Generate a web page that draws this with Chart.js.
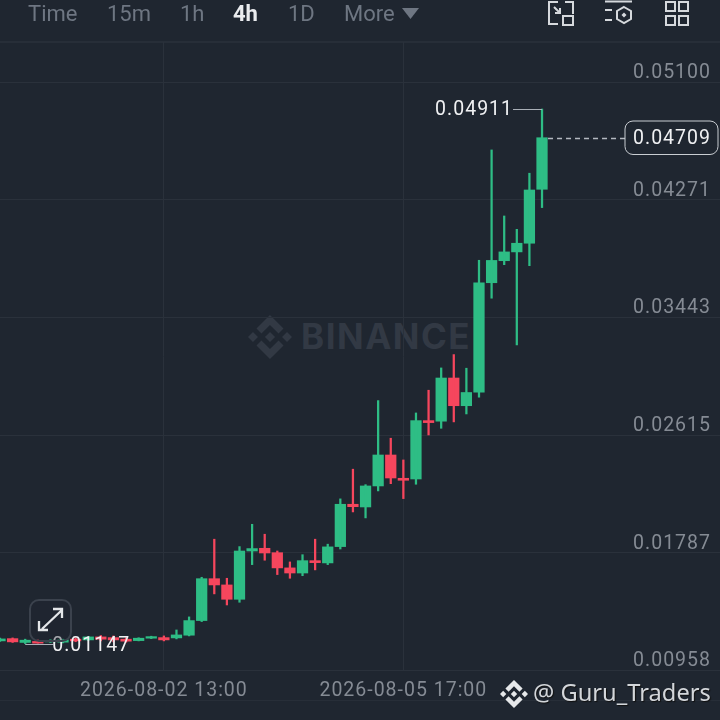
<!DOCTYPE html>
<html>
<head>
<meta charset="utf-8">
<script src="https://cdn.jsdelivr.net/npm/chart.js@4"></script>
<style>
html,body{margin:0;padding:0;background:#1f2630;width:720px;height:720px;overflow:hidden}
#wrap{position:relative;width:720px;height:720px;background:#1f2630}
canvas{position:absolute;left:0;top:0;z-index:2}
.t{position:absolute;white-space:nowrap;line-height:1;z-index:3}
.hd{font-family:Roboto,sans-serif;font-size:22px;color:#6e7682;top:3px}
.rule{position:absolute;left:0;width:720px;height:2px;background:#272e38;z-index:1}
svg{position:absolute;z-index:3}
</style>
</head>
<body>
<div id="wrap">
  <div class="rule" style="top:41px"></div>
  <div class="rule" style="top:700px;height:1px"></div>

  <svg style="left:248px;top:315px;z-index:1" width="44" height="44" viewBox="0 0 126.61 126.61"><path fill="#323944" d="M38.73 53.2L63.3 28.64l24.58 24.58 14.3-14.3L63.3 0 24.43 38.88l14.3 14.3zM0 63.31l14.3-14.3 14.3 14.3-14.3 14.3zM38.73 73.41L63.3 97.98l24.58-24.58 14.31 14.29L63.3 126.6 24.43 87.73l-.02-.02 14.32-14.3zM97.98 63.31l14.3-14.3 14.31 14.3-14.3 14.3zM77.82 63.3L63.3 48.78 52.57 59.51l-1.23 1.23-2.54 2.54 14.5 14.5 14.52-14.48z"/></svg>
  <div class="t" style="left:301px;top:319px;z-index:1;font-family:Inter,sans-serif;font-weight:700;font-size:35px;letter-spacing:1.5px;color:#323944">BINANCE</div>

  <div class="t hd" style="left:28px">Time</div>
  <div class="t hd" style="left:107px">15m</div>
  <div class="t hd" style="left:180px">1h</div>
  <div class="t hd" style="left:233px;color:#eaecef;font-weight:700">4h</div>
  <div class="t hd" style="left:288px">1D</div>
  <div class="t hd" style="left:344px">More</div>
  <svg style="left:402px;top:8px" width="17" height="12"><path d="M0 0H17L8.5 11Z" fill="#6e7682"/></svg>

  <svg style="left:545px;top:0" width="34" height="28" fill="none" stroke="#d6d9dd" stroke-width="2">
    <path d="M13 2H4v22h9M20 2h8v12"/><rect x="18" y="16" width="10" height="9"/><path d="M9 7l6 6M15 8v5h-5" stroke-width="2"/>
  </svg>
  <svg style="left:603px;top:0" width="34" height="28" fill="none" stroke="#d6d9dd" stroke-width="2">
    <path d="M2 1.5H29M2 10H9M2 20H9"/><path d="M21 7l7 4v8l-7 4-7-4v-8z"/><path d="M21 12.5l2.5 2.500-2.500 2.500-2.500-2.500z" fill="#d6d9dd" stroke="none"/>
  </svg>
  <svg style="left:663px;top:0" width="30" height="28" fill="none" stroke="#d6d9dd" stroke-width="2">
    <rect x="3" y="2" width="9" height="9"/><rect x="16" y="2" width="9" height="9"/><rect x="3" y="16" width="9" height="9"/><rect x="16" y="16" width="9" height="9"/>
  </svg>

  <svg style="left:28px;top:598px" width="46" height="46" fill="none">
    <rect x="2" y="2" width="41" height="41" rx="9" stroke="#3b424d" stroke-width="2" fill="#1f2630" fill-opacity=".35"/>
    <path d="M14 31L34 12M25 11h9v9M11 23v9h9" stroke="#e4e6e9" stroke-width="2.300"/>
  </svg>

  <svg style="left:500px;top:680px" width="28" height="28" viewBox="0 0 126.61 126.61"><path fill="#e6e8ea" d="M38.73 53.2L63.3 28.64l24.58 24.58 14.3-14.3L63.3 0 24.43 38.88l14.3 14.3zM0 63.31l14.3-14.3 14.3 14.3-14.3 14.3zM38.73 73.41L63.3 97.98l24.58-24.58 14.31 14.29L63.3 126.6 24.43 87.73l-.02-.02 14.32-14.3zM97.98 63.31l14.3-14.3 14.31 14.3-14.3 14.3zM77.82 63.3L63.3 48.78 52.57 59.51l-1.23 1.23-2.54 2.54 14.5 14.5 14.52-14.48z"/></svg>
  <div class="t" style="left:533px;top:681px;font-family:'Noto Sans',sans-serif;font-size:23.7px;color:#d3d6da;text-shadow:1px 1px 1px #111">@ Guru_Traders</div>

  <canvas id="c" width="720" height="720"></canvas>
</div>
<script>
// Candle positions on the time axis (one step = one 4h candle)
const xTickIndex = [13, 32];
const xTickLabels = ['2026-08-02 13:00', '2026-08-05 17:00'];
const yTicks = [0.00958, 0.01787, 0.02615, 0.03443, 0.04271, 0.05100];

const bodyTop = [.01180,.01182,.01171,.01162,.01169,.01173,.01178,.01194,.01194,.01189,.01178,.01185,.01196,.01189,.01208,.01309,.01604,.01604,.01560,.01799,.01816,.01818,.01787,.01680,.01731,.01731,.01828,.02128,.02128,.02257,.02475,.02475,.02311,.02717,.02717,.03017,.03017,.02915,.03688,.03845,.03905,.03966,.04341,.04709];
const bodyBottom = [.01166,.01159,.01155,.01150,.01159,.01157,.01166,.01173,.01178,.01173,.01164,.01168,.01185,.01173,.01187,.01206,.01309,.01560,.01459,.01459,.01799,.01785,.01680,.01644,.01644,.01717,.01715,.01830,.02111,.02109,.02257,.02313,.02297,.02306,.02703,.02713,.02822,.02822,.02917,.03688,.03843,.03905,.03966,.04346];
const highs = [.01185,.01187,.01178,.01173,.01176,.01178,.01187,.01197,.01204,.01201,.01189,.01188,.01199,.01201,.01243,.01335,.01614,.01882,.01607,.01830,.01987,.01917,.01799,.01722,.01773,.01882,.01847,.02166,.02375,.02266,.02858,.02593,.02440,.02771,.02931,.03088,.03182,.03086,.03846,.04623,.04158,.04064,.04459,.04911];
const lows = [.01162,.01155,.01147,.01150,.01155,.01152,.01160,.01169,.01166,.01159,.01157,.01166,.01182,.01166,.01180,.01201,.01302,.01497,.01419,.01438,.01703,.01734,.01633,.01607,.01625,.01666,.01703,.01813,.02074,.02032,.02222,.02273,.02168,.02269,.02616,.02663,.02708,.02764,.02882,.03579,.03815,.03250,.03808,.04217];
const isUp = [1,0,1,0,1,1,0,1,0,0,0,1,1,0,1,1,1,0,0,1,1,0,0,0,1,0,1,1,0,1,1,0,0,1,0,1,0,1,1,1,1,1,1,1];

const highLabel = {index: 43, value: 0.04911, text: '0.04911'};
const lowLabel = {index: 2, value: 0.01147, text: '0.01147'};
const lastPrice = {index: 43, value: 0.04709, text: '0.04709'};

const UP = '#2ebd85', DOWN = '#f6465d';
const colorOf = ctx => isUp[ctx.dataIndex] ? UP : DOWN;
const LABEL_FONT = '19.5px Roboto, sans-serif';
const LETTER_SPACING = '1px';

const annotations = {
  id: 'annotations',
  beforeDraw(chart) { chart.ctx.letterSpacing = LETTER_SPACING; },
  afterDatasetsDraw(chart) {
    const {ctx, scales: {x, y}} = chart;
    ctx.save();
    ctx.font = LABEL_FONT;
    ctx.textBaseline = 'middle';
    ctx.lineWidth = 1;

    // highest price
    const hx = x.getPixelForValue(highLabel.index), hy = Math.round(y.getPixelForValue(highLabel.value)) + .5;
    ctx.strokeStyle = '#a9afb7';
    ctx.beginPath(); ctx.moveTo(hx, hy); ctx.lineTo(hx - 29, hy); ctx.stroke();
    ctx.fillStyle = '#f0f1f3';
    ctx.textAlign = 'right';
    ctx.fillText(highLabel.text, hx - 29, hy + 1);

    // lowest price
    const lx = x.getPixelForValue(lowLabel.index), ly = Math.round(y.getPixelForValue(lowLabel.value)) + .5;
    ctx.beginPath(); ctx.moveTo(lx, ly); ctx.lineTo(lx + 28, ly); ctx.stroke();
    ctx.textAlign = 'left';
    ctx.fillText(lowLabel.text, lx + 27, ly + 2);

    // last price
    const px = x.getPixelForValue(lastPrice.index) + 6, py = Math.round(y.getPixelForValue(lastPrice.value)) + .5;
    ctx.setLineDash([5, 4]);
    ctx.lineWidth = 1.3;
    ctx.strokeStyle = '#b4b9c0';
    ctx.beginPath(); ctx.moveTo(px, py); ctx.lineTo(625, py); ctx.stroke();
    ctx.setLineDash([]);
    ctx.lineWidth = 1;
    ctx.beginPath(); ctx.roundRect(625, 121, 93, 33.500, 8);
    ctx.fillStyle = '#1f2630'; ctx.fill();
    ctx.strokeStyle = '#c9cdd2'; ctx.stroke();
    ctx.fillStyle = '#f0f1f3';
    ctx.textAlign = 'center';
    ctx.fillText(lastPrice.text, 672, 139);
    ctx.restore();
  }
};

new Chart(document.getElementById('c'), {
  type: 'bar',
  data: {
    datasets: [
      {
        data: highs.map((h, i) => ({x: i, y: [lows[i], h]})),
        barThickness: 1.6,
        grouped: false,
        backgroundColor: colorOf,
        borderWidth: 0
      },
      {
        data: bodyTop.map((t, i) => ({x: i, y: [bodyBottom[i], t]})),
        barThickness: 10.6,
        grouped: false,
        backgroundColor: colorOf,
        borderWidth: 0
      }
    ]
  },
  options: {
    responsive: false,
    animation: false,
    devicePixelRatio: 1,
    layout: {padding: {top: 42, left: 0, right: 0, bottom: 0}},
    plugins: {legend: {display: false}, tooltip: {enabled: false}},
    scales: {
      x: {
        type: 'linear',
        offset: false,
        min: 0,
        max: 57.12,
        afterBuildTicks(s) { s.ticks = xTickIndex.map(v => ({value: v})); },
        afterFit(s) { s.height = 49; s.paddingLeft = 0; s.paddingRight = 0; },
        grid: {offset: false, color: '#2a313b', lineWidth: 1, drawTicks: false},
        border: {display: false},
        ticks: {
          autoSkip: false, maxRotation: 0, padding: 8,
          color: '#858b94',
          font: {family: 'Roboto, sans-serif', size: 19.5},
          callback: v => xTickLabels[xTickIndex.indexOf(v)]
        }
      },
      y: {
        type: 'linear',
        position: 'right',
        min: 0.00954,
        max: 0.05383,
        afterBuildTicks(s) { s.ticks = yTicks.map(v => ({value: v})); },
        afterFit(s) { s.width = 0; s.paddingTop = 0; s.paddingBottom = 0; },
        grid: {color: '#2a313b', lineWidth: 1, drawTicks: false},
        border: {display: false},
        ticks: {
          mirror: true, padding: -9, labelOffset: -9,
          color: '#858b94',
          font: {family: 'Roboto, sans-serif', size: 19.5},
          callback: v => v.toFixed(5)
        }
      }
    }
  },
  plugins: [annotations]
});
</script>
</body>
</html>
